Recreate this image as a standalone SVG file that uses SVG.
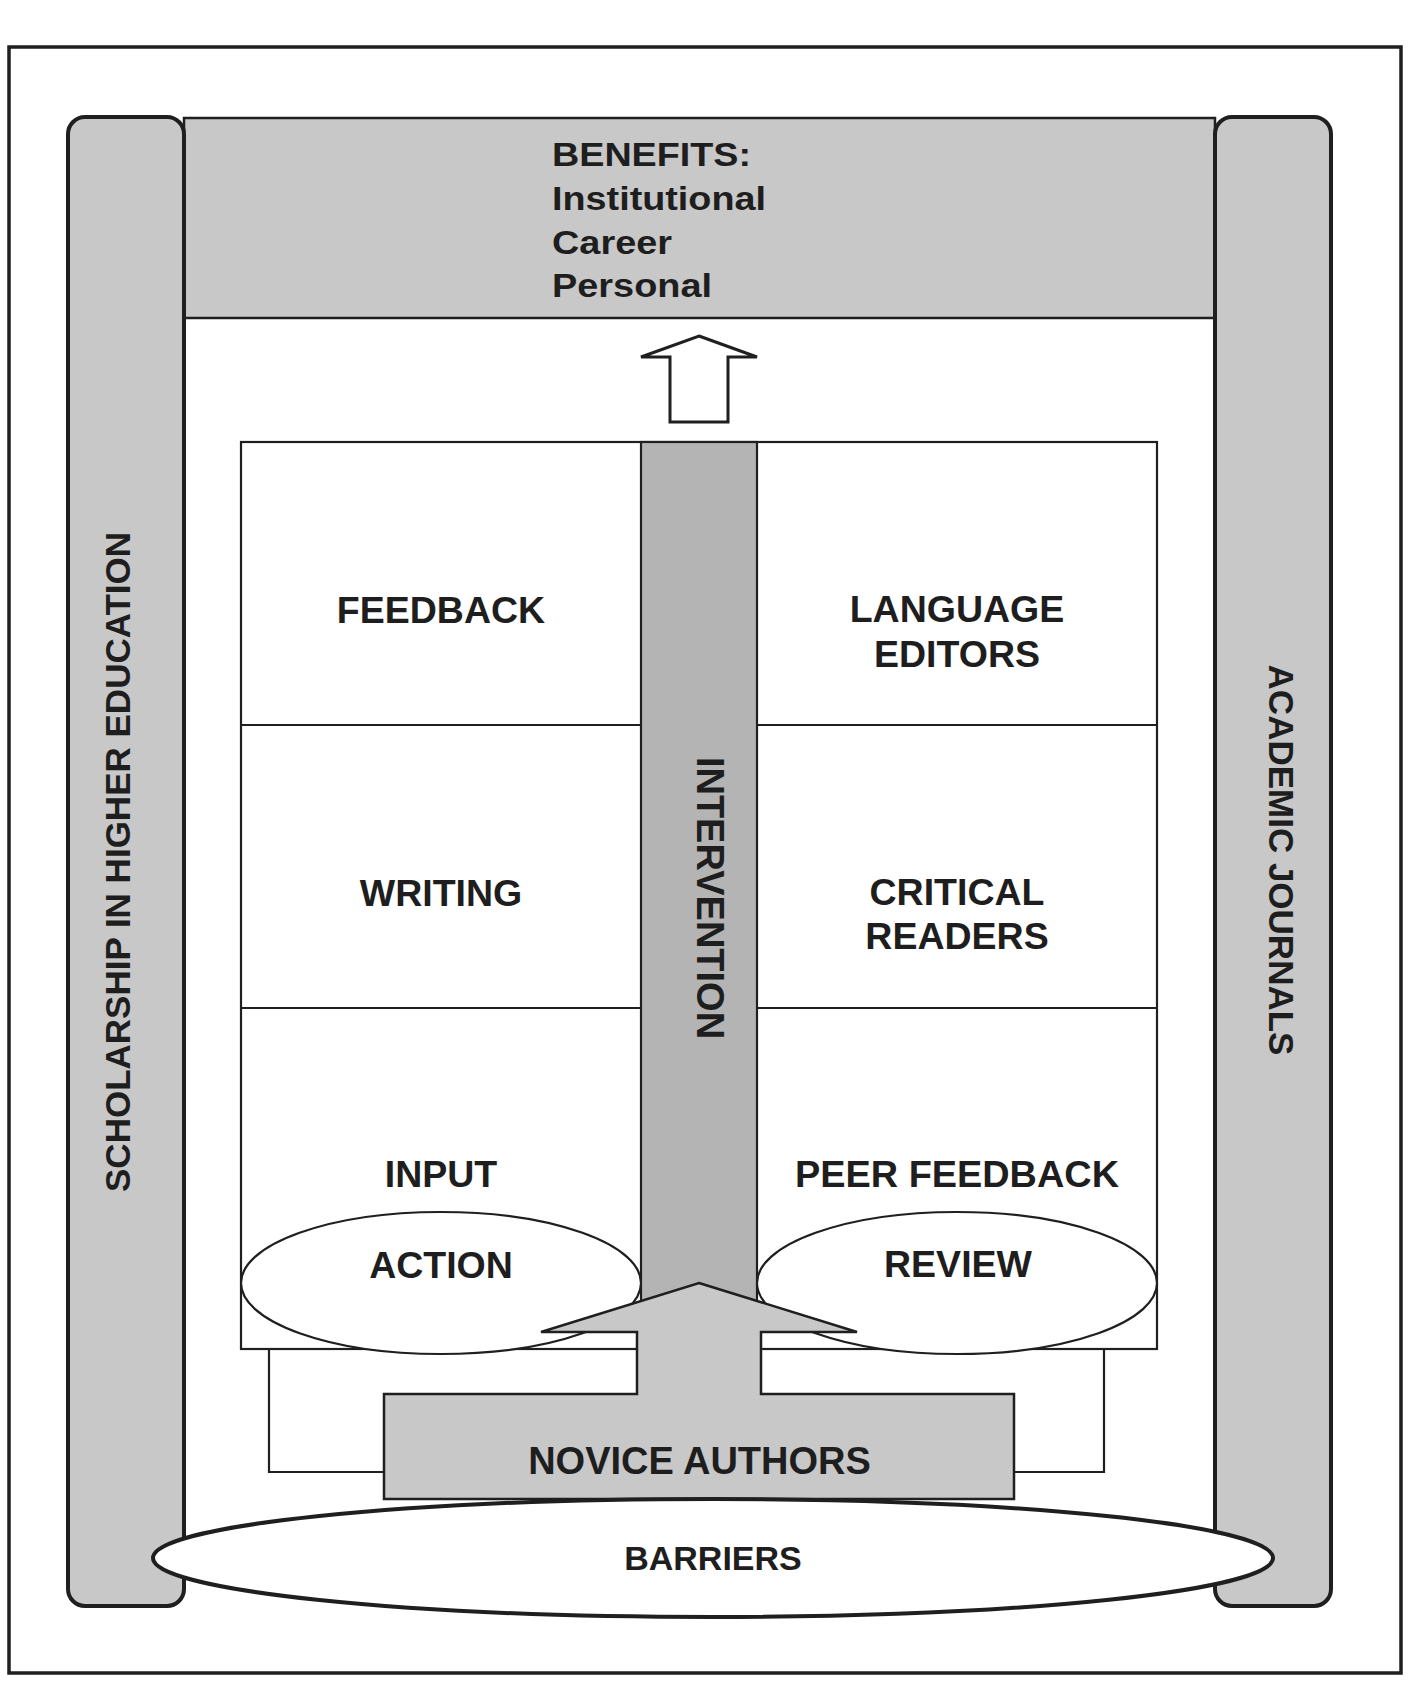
<svg xmlns="http://www.w3.org/2000/svg" width="1411" height="1694" viewBox="0 0 1411 1694">
<style>
.ln{stroke:#1f1f1f;fill:none}
.gray{fill:#c8c8c8;stroke:#1f1f1f}
.white{fill:#ffffff;stroke:#1f1f1f}
.t{font-family:"Liberation Sans",Arial,sans-serif;font-weight:bold;fill:#1e1e1e}
.c{text-anchor:middle;font-size:37.5px}
.v{text-anchor:middle;font-size:35px}
</style>
<rect x="0" y="0" width="1411" height="1694" fill="#ffffff"/>
<rect id="frame" x="9" y="47" width="1392" height="1626" class="ln" stroke-width="3.5"/>

<g id="benefits">
<rect x="184" y="118" width="1031" height="200" class="gray" stroke-width="2.5"/>
<text class="t" font-size="32.5" x="552" y="166" textLength="199" lengthAdjust="spacingAndGlyphs">BENEFITS:</text>
<text class="t" font-size="32.5" x="552" y="210" textLength="214" lengthAdjust="spacingAndGlyphs">Institutional</text>
<text class="t" font-size="32.5" x="552" y="253.5" textLength="120" lengthAdjust="spacingAndGlyphs">Career</text>
<text class="t" font-size="32.5" x="552" y="297" textLength="160" lengthAdjust="spacingAndGlyphs">Personal</text>
</g>

<g id="scholarship">
<rect x="68" y="117" width="116" height="1489" rx="17" ry="17" class="gray" stroke-width="4"/>
<text class="t v" transform="translate(130,862) rotate(-90)" textLength="660" lengthAdjust="spacingAndGlyphs">SCHOLARSHIP IN HIGHER EDUCATION</text>
</g>

<g id="journals">
<rect x="1215" y="117" width="116" height="1489" rx="17" ry="17" class="gray" stroke-width="4"/>
<text class="t v" transform="translate(1268.5,860) rotate(90)">ACADEMIC JOURNALS</text>
</g>

<g id="grid">
<rect x="241" y="442" width="916" height="907" class="white" stroke-width="2.2"/>
<line x1="241" y1="725" x2="1157" y2="725" class="ln" stroke-width="2.2"/>
<line x1="241" y1="1008" x2="1157" y2="1008" class="ln" stroke-width="2.2"/>
</g>

<g id="feedback"><text class="t c" x="441" y="623">FEEDBACK</text></g>
<g id="language-editors"><text class="t c" x="957" y="622">LANGUAGE</text><text class="t c" x="957" y="667">EDITORS</text></g>
<g id="writing"><text class="t c" x="441" y="906">WRITING</text></g>
<g id="critical-readers"><text class="t c" x="957" y="905">CRITICAL</text><text class="t c" x="957" y="949">READERS</text></g>
<g id="input"><text class="t c" x="441" y="1187">INPUT</text></g>
<g id="peer-feedback"><text class="t c" x="957" y="1187" textLength="324" lengthAdjust="spacingAndGlyphs">PEER FEEDBACK</text></g>

<g id="intervention">
<rect x="641" y="442" width="116" height="907" fill="#b4b4b4" stroke="#1f1f1f" stroke-width="2.2"/>
<text class="t" font-size="38" text-anchor="middle" transform="translate(697,898) rotate(90)">INTERVENTION</text>
</g>

<g id="connectors">
<polygon points="699,336 757,357 728,357 728,422 670,422 670,357 641,357" class="white" stroke-width="3"/>
<polyline points="269,1349 269,1472 384,1472" class="ln" stroke-width="2.2"/>
<polyline points="1104,1349 1104,1472 1014,1472" class="ln" stroke-width="2.2"/>
</g>

<g id="action">
<ellipse cx="441" cy="1283" rx="200" ry="71" class="white" stroke-width="2.2"/>
<text class="t c" x="441" y="1278">ACTION</text>
</g>
<g id="review">
<ellipse cx="957" cy="1283" rx="200" ry="71" class="white" stroke-width="2.2"/>
<text class="t c" x="958" y="1277">REVIEW</text>
</g>

<g id="novice-authors">
<polygon points="699,1283 857,1332 761,1332 761,1394 1014,1394 1014,1499 384,1499 384,1394 637,1394 637,1332 541,1332" class="gray" stroke-width="2.5"/>
<text class="t" font-size="38" text-anchor="middle" x="699.5" y="1474">NOVICE AUTHORS</text>
</g>

<g id="barriers">
<ellipse cx="713" cy="1558" rx="560" ry="59" class="white" stroke-width="4"/>
<text class="t" font-size="34" text-anchor="middle" x="713" y="1570">BARRIERS</text>
</g>
</svg>
